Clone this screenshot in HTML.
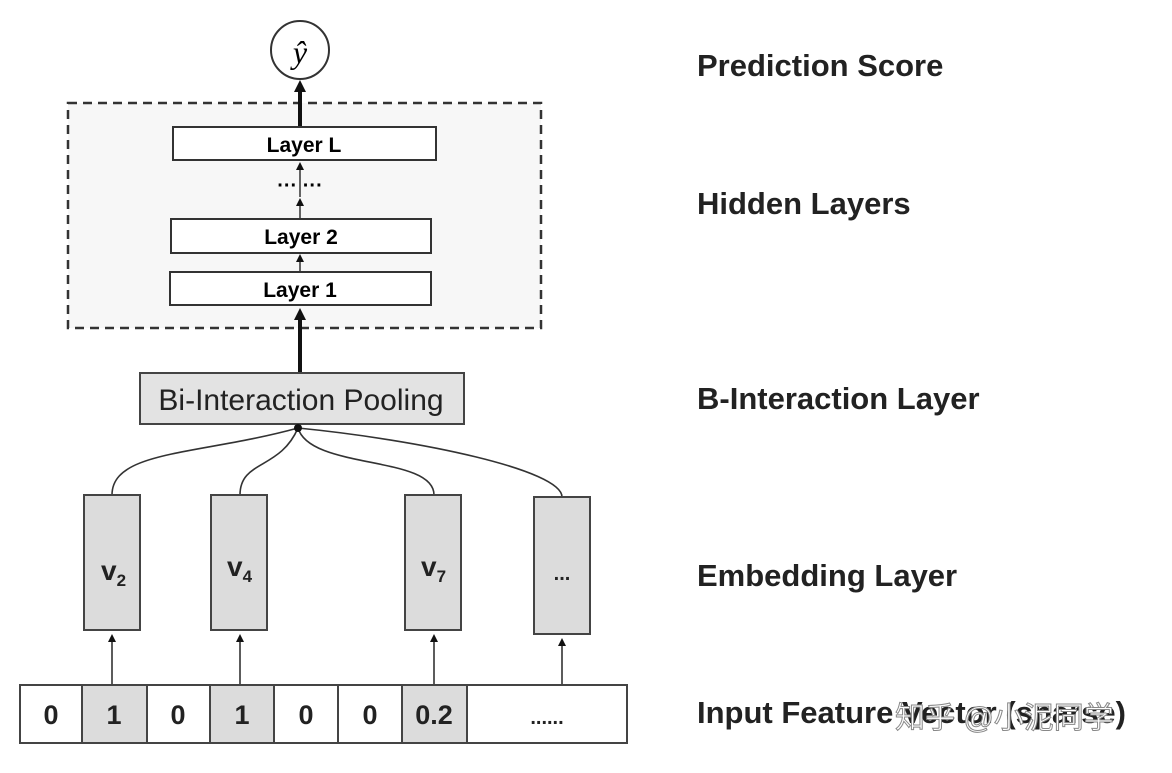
<!DOCTYPE html>
<html><head><style>
body{margin:0;background:#fff;width:1172px;height:768px;overflow:hidden}
</style></head><body>
<svg width="1172" height="768" xmlns="http://www.w3.org/2000/svg" font-family="Liberation Sans, sans-serif">
<defs>
<marker id="a" markerWidth="8" markerHeight="8" refX="4" refY="4" orient="auto" markerUnits="userSpaceOnUse"><path d="M0,0 L8,4 L0,8 z" fill="#111"/></marker>
<marker id="b" markerWidth="12" markerHeight="12" refX="6" refY="6" orient="auto" markerUnits="userSpaceOnUse"><path d="M0,0 L12,6 L0,12 z" fill="#111"/></marker>
</defs>
<rect x="68" y="103" width="473" height="225" fill="#f7f7f7" stroke="#333" stroke-width="2.5" stroke-dasharray="9,6"/>
<circle cx="300" cy="50" r="29" fill="#fff" stroke="#333" stroke-width="2"/>
<text x="300" y="63" font-size="32" font-style="italic" font-family="Liberation Serif, serif" text-anchor="middle">ŷ</text>
<line x1="300" y1="127" x2="300" y2="86" stroke="#111" stroke-width="4" marker-end="url(#b)"/>
<rect x="173" y="127" width="263" height="33" fill="#fff" stroke="#333" stroke-width="2"/>
<text x="304" y="152" font-size="21" font-weight="bold" text-anchor="middle">Layer L</text>
<line x1="300" y1="197" x2="300" y2="166" stroke="#333" stroke-width="1.5" marker-end="url(#a)"/>
<text x="300" y="192" font-size="20" font-weight="bold" text-anchor="middle">··· ···</text>
<line x1="300" y1="219" x2="300" y2="202" stroke="#333" stroke-width="1.5" marker-end="url(#a)"/>
<rect x="171" y="219" width="260" height="34" fill="#fff" stroke="#333" stroke-width="2"/>
<text x="301" y="244" font-size="21" font-weight="bold" text-anchor="middle">Layer 2</text>
<line x1="300" y1="272" x2="300" y2="258" stroke="#333" stroke-width="1.5" marker-end="url(#a)"/>
<rect x="170" y="272" width="261" height="33" fill="#fff" stroke="#333" stroke-width="2"/>
<text x="300" y="297" font-size="21" font-weight="bold" text-anchor="middle">Layer 1</text>
<line x1="300" y1="373" x2="300" y2="314" stroke="#111" stroke-width="4" marker-end="url(#b)"/>
<rect x="140" y="373" width="324" height="51" fill="#e3e3e3" stroke="#444" stroke-width="2"/>
<text x="301" y="410" font-size="30" fill="#222" text-anchor="middle">Bi-Interaction Pooling</text>
<g fill="none" stroke="#333" stroke-width="1.6">
<path d="M112,495 C112,450 200,455 298,428"/>
<path d="M240,495 C240,460 280,470 298,428"/>
<path d="M434,495 C434,455 310,470 298,428"/>
<path d="M562,497 C562,470 420,440 298,428"/>
</g>
<circle cx="298" cy="428" r="4" fill="#111"/>
<g fill="#dcdcdc" stroke="#444" stroke-width="2">
<rect x="84" y="495" width="56" height="135"/>
<rect x="211" y="495" width="56" height="135"/>
<rect x="405" y="495" width="56" height="135"/>
<rect x="534" y="497" width="56" height="137"/>
</g>
<g font-size="28" font-weight="bold" fill="#222">
<text x="101" y="580">v<tspan font-size="17" dy="6">2</tspan></text>
<text x="227" y="576">v<tspan font-size="17" dy="6">4</tspan></text>
<text x="421" y="576">v<tspan font-size="17" dy="6">7</tspan></text>
<text x="562" y="580" font-size="20" text-anchor="middle">...</text>
</g>
<g stroke="#333" stroke-width="1.6">
<line x1="112" y1="685" x2="112" y2="638" marker-end="url(#a)"/>
<line x1="240" y1="685" x2="240" y2="638" marker-end="url(#a)"/>
<line x1="434" y1="685" x2="434" y2="638" marker-end="url(#a)"/>
<line x1="562" y1="685" x2="562" y2="642" marker-end="url(#a)"/>
</g>
<g stroke="#444" stroke-width="2">
<rect x="20" y="685" width="62" height="58" fill="#fff"/>
<rect x="82" y="685" width="65" height="58" fill="#dcdcdc"/>
<rect x="147" y="685" width="63" height="58" fill="#fff"/>
<rect x="210" y="685" width="64" height="58" fill="#dcdcdc"/>
<rect x="274" y="685" width="64" height="58" fill="#fff"/>
<rect x="338" y="685" width="64" height="58" fill="#fff"/>
<rect x="402" y="685" width="65" height="58" fill="#dcdcdc"/>
<rect x="467" y="685" width="160" height="58" fill="#fff"/>
</g>
<g font-size="27" font-weight="bold" fill="#222" text-anchor="middle">
<text x="51" y="724">0</text><text x="114" y="724">1</text><text x="178" y="724">0</text>
<text x="242" y="724">1</text><text x="306" y="724">0</text><text x="370" y="724">0</text>
<text x="434" y="724">0.2</text><text x="547" y="724" font-size="20">......</text>
</g>
<g font-size="31" font-weight="bold" fill="#222">
<text x="697" y="76">Prediction Score</text>
<text x="697" y="214">Hidden Layers</text>
<text x="697" y="409">B-Interaction Layer</text>
<text x="697" y="586">Embedding Layer</text>
<text x="697" y="723">Input Feature Vector (sparse)</text>
</g>
<text x="895" y="728" font-size="30" fill="#fff" stroke="#888" stroke-width="1" font-family="Liberation Sans, Noto Sans CJK SC, sans-serif">知乎 @小泥同学</text>
</svg>
</body></html>
